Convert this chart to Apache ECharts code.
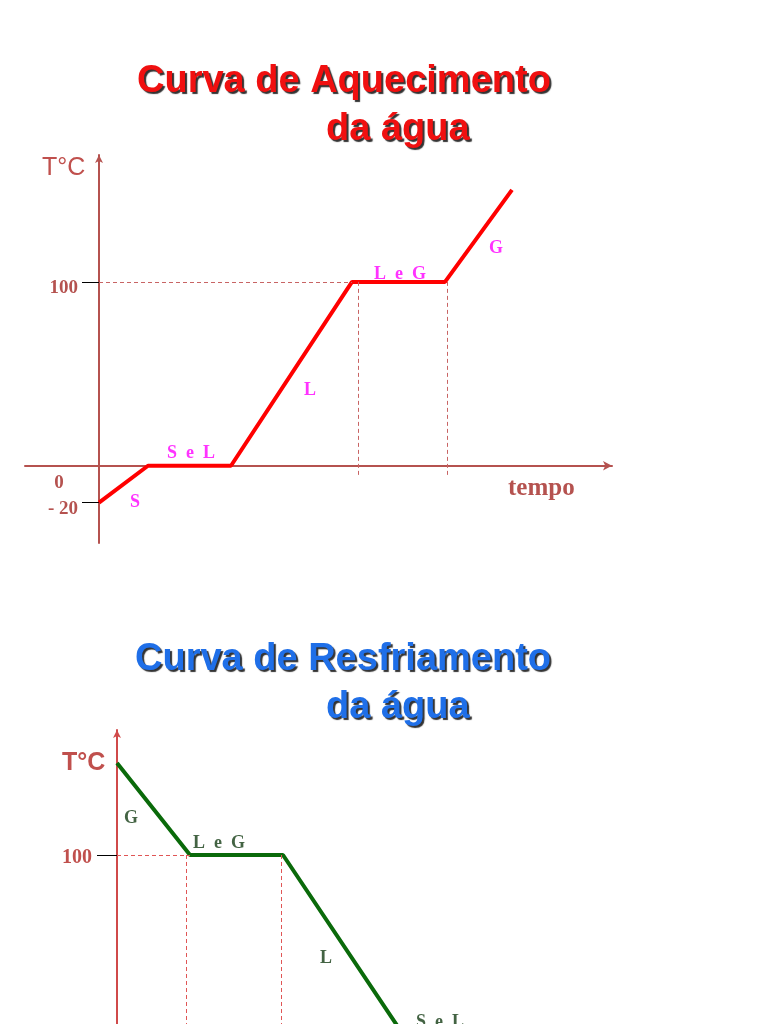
<!DOCTYPE html>
<html>
<head>
<meta charset="utf-8">
<title>Curvas da água</title>
<script src="https://cdn.jsdelivr.net/npm/echarts@6/dist/echarts.min.js"></script>
<style>
    html, body { margin: 0; padding: 0; background: #fff; }
    #content { width: 768px; height: 1024px; }
</style>
</head>
<body>
<div id="content"></div>
<script>
/**
 * DATA
 */
// curva de aquecimento: [tempo, temperatura]
var heatTime = [0, 4.9, 13.2, 25.3, 34.6, 41.3];
var heatTemp = [-20, 0, 0, 100, 100, 150];
var heatPhases = ['S', 'S e L', 'L', 'L e G', 'G'];
var heatPhaseTime = [3.6, 9.2, 21.1, 30.1, 39.7];
var heatPhaseTemp = [-20, 7, 41, 104, 118];

// curva de resfriamento
var coolTime = [0, 7.3, 16.6, 28.9, 37];
var coolTemp = [150, 100, 100, 0, 0];
var coolPhases = ['G', 'L e G', 'L', 'S e L'];
var coolPhaseTime = [1.4, 10.2, 20.9, 32.3];
var coolPhaseTemp = [120, 106.5, 44, 9.2];

var tickValues = [100, -20];

/**
 * UTILS
 */
function pairs(xs, ys) {
    return xs.map(function (x, i) {
        return [x, ys[i]];
    });
}

function phaseData(xs, ys, names) {
    return names.map(function (n, i) {
        return {name: n, value: [xs[i], ys[i]]};
    });
}

function dashed(from, to) {
    return [{coord: from}, {coord: to}];
}

// rótulos das fases com espaçamento largo
function wide(p) {
    return p.name.replace(/ /g, '\u2002');
}

var serif = "'Liberation Serif', 'DejaVu Serif', serif";
var sans = "'Liberation Sans', Arial, sans-serif";

function titleText(text, left, top, color) {
    return {
        text: text,
        left: left,
        top: top,
        padding: 0,
        textStyle: {
            fontFamily: sans,
            fontWeight: 'bold',
            fontSize: 38,
            color: color,
            textShadowColor: '#333',
            textShadowOffsetX: 2,
            textShadowOffsetY: 2,
            textShadowBlur: 1
        }
    };
}

function label(text, x, y, font, fill, align) {
    return {
        type: 'text',
        x: x,
        y: y,
        style: {
            text: text,
            font: font,
            fill: fill,
            align: align || 'left',
            textAlign: align || 'left',
            verticalAlign: 'middle',
            textVerticalAlign: 'middle'
        }
    };
}

/**
 * CHART
 */
var chart = echarts.init(document.getElementById('content'));

var options = {
    animation: false,
    title: [
        titleText('Curva de Aquecimento', 137, 63, '#f01010'),
        titleText('da água', 326, 111, '#f01010'),
        titleText('Curva de Resfriamento', 135, 641, '#1f6fe8'),
        titleText('da água', 326, 689, '#1f6fe8')
    ],
    grid: [
        {left: 25, top: 155, width: 587, height: 388, containLabel: false, outerBoundsMode: 'none'},
        {left: 117, top: 730, width: 500, height: 386, containLabel: false, outerBoundsMode: 'none'}
    ],
    xAxis: [
        {
            gridIndex: 0,
            type: 'value',
            min: -7.4,
            max: 51.3,
            axisLine: {
                onZero: true,
                symbol: ['none', 'arrow'],
                symbolSize: [7, 9],
                lineStyle: {color: '#b5524f', width: 2}
            },
            axisTick: {show: false},
            axisLabel: {show: false},
            splitLine: {show: false}
        },
        {
            gridIndex: 1,
            type: 'value',
            min: 0,
            max: 50,
            axisLine: {
                onZero: true,
                lineStyle: {color: '#d04a4a', width: 2}
            },
            axisTick: {show: false},
            axisLabel: {show: false},
            splitLine: {show: false}
        }
    ],
    yAxis: [
        {
            gridIndex: 0,
            type: 'value',
            min: -42,
            max: 169,
            // eixo deslocado para dentro, até o tempo zero
            offset: -74,
            axisLine: {
                show: true,
                onZero: false,
                symbol: ['none', 'arrow'],
                symbolSize: [6, 8],
                lineStyle: {color: '#b5524f', width: 2}
            },
            axisTick: {
                show: true,
                length: 17,
                customValues: tickValues,
                lineStyle: {color: '#000', width: 1}
            },
            axisLabel: {
                customValues: tickValues,
                margin: 21,
                verticalAlign: 'top',
                lineHeight: 13,
                fontFamily: serif,
                fontWeight: 'bold',
                fontSize: 19,
                color: '#b5524f',
                formatter: function (v) {
                    return v < 0 ? '- ' + (-v) : '' + v;
                }
            },
            splitLine: {show: false}
        },
        {
            gridIndex: 1,
            type: 'value',
            min: -42,
            max: 168,
            axisLine: {
                show: true,
                onZero: false,
                symbol: ['none', 'arrow'],
                symbolSize: [6, 8],
                lineStyle: {color: '#d04a4a', width: 2}
            },
            axisTick: {
                show: true,
                length: 20,
                customValues: [100],
                lineStyle: {color: '#000', width: 1}
            },
            axisLabel: {
                customValues: [100],
                margin: 25,
                verticalAlign: 'top',
                lineHeight: 6,
                fontFamily: serif,
                fontWeight: 'bold',
                fontSize: 20,
                color: '#c0504d'
            },
            splitLine: {show: false}
        }
    ],
    series: [
        {
            name: 'aquecimento',
            type: 'line',
            xAxisIndex: 0,
            yAxisIndex: 0,
            data: pairs(heatTime, heatTemp),
            showSymbol: false,
            lineStyle: {color: '#ff0000', width: 4},
            z: 3,
            markLine: {
                silent: true,
                symbol: 'none',
                label: {show: false},
                lineStyle: {color: '#c86464', width: 1, type: [4, 3]},
                data: [
                    dashed([0, 100], [heatTime[3], 100]),
                    dashed([25.9, 100], [25.9, -6]),
                    dashed([34.8, 100], [34.8, -6])
                ]
            }
        },
        {
            name: 'fases aquecimento',
            type: 'scatter',
            xAxisIndex: 0,
            yAxisIndex: 0,
            symbolSize: 0,
            data: phaseData(heatPhaseTime, heatPhaseTemp, heatPhases),
            label: {
                show: true,
                position: 'inside',
                formatter: wide,
                fontFamily: serif,
                fontWeight: 'bold',
                fontSize: 18,
                color: '#ff00ff'
            }
        },
        {
            name: 'resfriamento',
            type: 'line',
            xAxisIndex: 1,
            yAxisIndex: 1,
            data: pairs(coolTime, coolTemp),
            showSymbol: false,
            lineStyle: {color: '#0a6a0a', width: 4},
            z: 3,
            markLine: {
                silent: true,
                symbol: 'none',
                label: {show: false},
                lineStyle: {color: '#e05555', width: 1, type: [4, 3]},
                data: [
                    dashed([0, 100], [coolTime[1], 100]),
                    dashed([6.9, 100], [6.9, -10]),
                    dashed([16.4, 100], [16.4, -10])
                ]
            }
        },
        {
            name: 'fases resfriamento',
            type: 'scatter',
            xAxisIndex: 1,
            yAxisIndex: 1,
            symbolSize: 0,
            data: phaseData(coolPhaseTime, coolPhaseTemp, coolPhases),
            label: {
                show: true,
                position: 'inside',
                formatter: wide,
                fontFamily: serif,
                fontWeight: 'bold',
                fontSize: 18,
                color: '#143c14'
            }
        }
    ],
    graphic: [
        label('T°C', 42, 168, 'normal 25px ' + sans, '#c0504d'),
        label('0', 59, 483, 'bold 19px ' + serif, '#b5524f', 'center'),
        label('tempo', 508, 489, 'bold 25px ' + serif, '#b5524f'),
        label('T°C', 62, 763, 'bold 25px ' + sans, '#c0504d')
    ]
};

chart.setOption(options);
</script>
</body>
</html>
